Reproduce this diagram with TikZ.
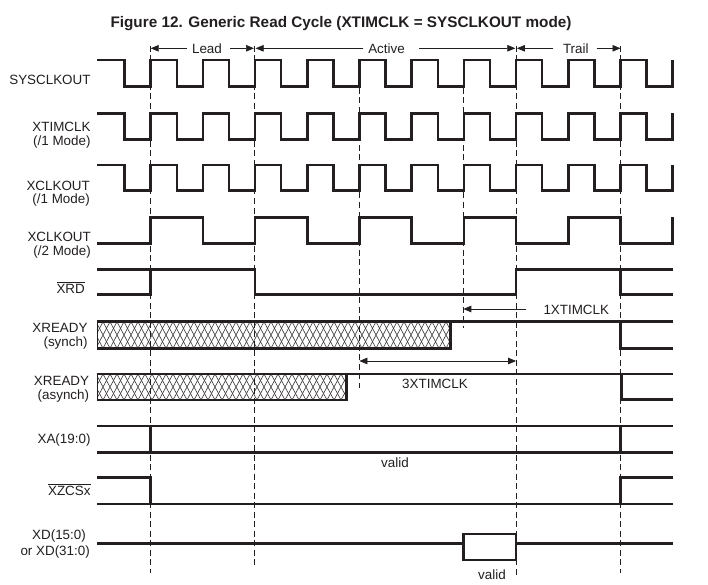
\documentclass[tikz,border=0pt]{standalone}
\usepackage{fontspec}
\setmainfont{Liberation Sans}
\usetikzlibrary{arrows.meta}
\definecolor{ink}{RGB}{35,31,32}
\begin{document}
\begin{tikzpicture}[x=1pt,y=-1pt,
  wave/.style={draw=ink,line width=2.5pt},
  guide/.style={draw=ink,line width=0.7pt,dash pattern=on 6pt off 3.5pt},
  hatchline/.style={draw=ink!90,line width=0.6pt},
  lbl/.style={anchor=base east,inner sep=0pt,text=ink,font=\fontsize{13.4}{15}\selectfont},
  txt/.style={anchor=base,inner sep=0pt,text=ink,font=\fontsize{13.4}{15}\selectfont},
  dim/.style={draw=ink,line width=0.7pt},
  tipR/.style={-{Triangle[length=8pt,width=6.5pt]}},
  tipLR/.style={{Triangle[length=8pt,width=6.5pt]}-{Triangle[length=8pt,width=6.5pt]}},
]
\useasboundingbox (0,0) rectangle (708,585);
\fill[white] (0,0) rectangle (708,585);

% title
\node[anchor=base,inner sep=0pt,text=ink,font=\bfseries\fontsize{15.3}{18}\selectfont] (title) at (341,27.3) {Figure 12. Generic Read Cycle (XTIMCLK = SYSCLKOUT mode)};

% guide coordinates
\coordinate (g0t) at (150.7,46);   \coordinate (g0b) at (150.7,573);
\coordinate (g2t) at (254.8,46);   \coordinate (g2b) at (254.8,568);
\coordinate (g4t) at (359.4,88);   \coordinate (g4b) at (359.4,388);
\coordinate (g6t) at (463.3,88);   \coordinate (g6b) at (463.3,328);
\coordinate (g7t) at (516.1,46);   \coordinate (g7b) at (516.1,575);
\coordinate (g9t) at (620.5,46);   \coordinate (g9b) at (620.5,573);

% hatched boxes
\begin{scope}
  \clip (97.3,321.7) rectangle (450.7,348.3);
  \foreach \x in {82,89,...,452} {
    \draw[hatchline] (\x,321.7) -- ++(14,26.6);
    \draw[hatchline] (\x,348.3) -- ++(14,-26.6);
  }
\end{scope}
\begin{scope}
  \clip (97.3,374) rectangle (346.7,400);
  \foreach \x in {82,89,...,348} {
    \draw[hatchline] (\x,374) -- ++(14,26);
    \draw[hatchline] (\x,400) -- ++(14,-26);
  }
\end{scope}
\draw[ink,line width=0.6pt] (97.6,321.7) -- (97.6,348.3);
\draw[ink,line width=0.6pt] (97.6,374) -- (97.6,400);

% guides
\draw[guide] (g0t) -- (g0b);
\draw[guide] (g2t) -- (g2b);
\draw[guide] (g4t) -- (g4b);
\draw[guide] (g6t) -- (g6b);
\draw[guide] (g7t) -- (g7b);
\draw[guide] (g9t) -- (g9b);

% phase labels and arrows
\node[txt] (lead) at (207,54) {Lead};
\node[txt] (active) at (386.5,54) {Active};
\node[txt] (trail) at (575.8,54) {Trail};
\coordinate (leadL) at (186.7,48.3); \coordinate (leadR) at (230,48.3);
\coordinate (actL) at (363.3,48.3);  \coordinate (actR) at (419.3,48.3);
\coordinate (trL) at (553.3,48.3);   \coordinate (trR) at (596.7,48.3);
\coordinate (a0) at (150.7,48.3); \coordinate (a2l) at (254.0,48.3); \coordinate (a2r) at (255.6,48.3);
\coordinate (a7l) at (515.3,48.3); \coordinate (a7r) at (516.9,48.3); \coordinate (a9) at (620.5,48.3);
\draw[dim,tipR] (leadL) -- (a0);
\draw[dim,tipR] (leadR) -- (a2l);
\draw[dim,tipR] (actL) -- (a2r);
\draw[dim,tipR] (actR) -- (a7l);
\draw[dim,tipR] (trL) -- (a7r);
\draw[dim,tipR] (trR) -- (a9);

% clocks
\draw[wave] (97.3,60) \foreach \k in {0,...,10} { -| ({124.6+52.2*\k},86.3) -| ({150.7+52.2*\k},60) };
\draw[wave] (97.3,113.3) \foreach \k in {0,...,10} { -| ({124.6+52.2*\k},139.3) -| ({150.7+52.2*\k},113.3) };
\draw[wave] (97.3,165) \foreach \k in {0,...,10} { -| ({124.6+52.2*\k},190.7) -| ({150.7+52.2*\k},165) };
\draw[wave] (97.3,243.3) \foreach \k in {0,...,4} { -| ({150.7+104.4*\k},217.3) -| ({202.9+104.4*\k},243.3) } -| (672.7,217.3);

% XRD
\draw[wave] (97.3,269.3) -- (254.8,269.3) -- (254.8,294.3) -- (516.1,294.3) -- (516.1,269.3) -- (672.7,269.3);
\draw[wave] (97.3,294.3) -| (150.7,269.3);
\draw[wave] (672.7,294.3) -| (620.5,269.3);

% XREADY synch
\draw[wave] (97.3,321.7) -- (672.7,321.7);
\draw[wave] (97.3,348.3) -| (450.7,321.7);
\draw[wave] (620.5,321.7) |- (672.7,348.3);

% XREADY asynch
\draw[wave] (97.3,374) -- (672.7,374);
\draw[wave] (97.3,400) -| (346.7,374);
\draw[wave] (621.7,374) |- (672.7,399.5);

% XA
\draw[wave] (97.3,426) -- (672.7,426);
\draw[wave] (97.3,452.3) -- (672.7,452.3);
\draw[wave] (150.7,426) -- (150.7,452.3);
\draw[wave] (620.5,426) -- (620.5,452.3);

% XZCSx
\draw[wave] (97.3,477.7) -| (150.7,504);
\draw[wave] (97.3,504) -- (672.7,504);
\draw[wave] (620.5,504) |- (672.7,477.7);

% XD
\draw[wave] (97.3,543.3) -- (463.3,543.3);
\draw[wave] (463.3,534) rectangle (516.1,560);
\draw[wave] (516.1,543.3) -- (672.7,543.3);

% timing annotations
\coordinate (oneS) at (526,309); \coordinate (oneE) at (463.3,309);
\draw[dim,tipR] (oneS) -- (oneE);
\node[txt,anchor=base west] (onex) at (543.3,314.7) {1XTIMCLK};
\coordinate (thrL) at (359.4,361); \coordinate (thrR) at (516.1,361);
\draw[dim,tipLR] (thrL) -- (thrR);
\node[txt] (threex) at (435,388) {3XTIMCLK};
\node[txt] (validA) at (395,467.7) {valid};
\node[txt] (validD) at (492,579) {valid};

% signal labels
\node[lbl] (l-sys) at (90.7,84.3) {SYSCLKOUT};
\node[lbl] (l-xtim) at (90.7,131.7) {XTIMCLK};
\node[lbl] (l-xtim2) at (90.7,145.5) {(/1 Mode)};
\node[lbl] (l-xclk1) at (90,190) {XCLKOUT};
\node[lbl] (l-xclk1b) at (90,203.2) {(/1 Mode)};
\node[lbl] (l-xclk2) at (91,241.7) {XCLKOUT};
\node[lbl] (l-xclk2b) at (91,255.5) {(/2 Mode)};
\node[lbl] (l-xrd) at (85,293.3) {$\overline{\mbox{XRD}}$};
\node[lbl] (l-rdys) at (87.7,332.7) {XREADY};
\node[lbl] (l-rdys2) at (87.7,346.5) {(synch)};
\node[lbl] (l-rdya) at (89.3,385) {XREADY};
\node[lbl] (l-rdya2) at (89.3,399) {(asynch)};
\node[lbl] (l-xa) at (90.7,443) {XA(19:0)};
\node[lbl] (l-cs) at (90.7,495) {$\overline{\mbox{XZCSx}}$};
\node[lbl] (l-xd) at (86,539) {XD(15:0)};
\node[lbl] (l-xd2) at (90,555.5) {or XD(31:0)};
\end{tikzpicture}
\end{document}
